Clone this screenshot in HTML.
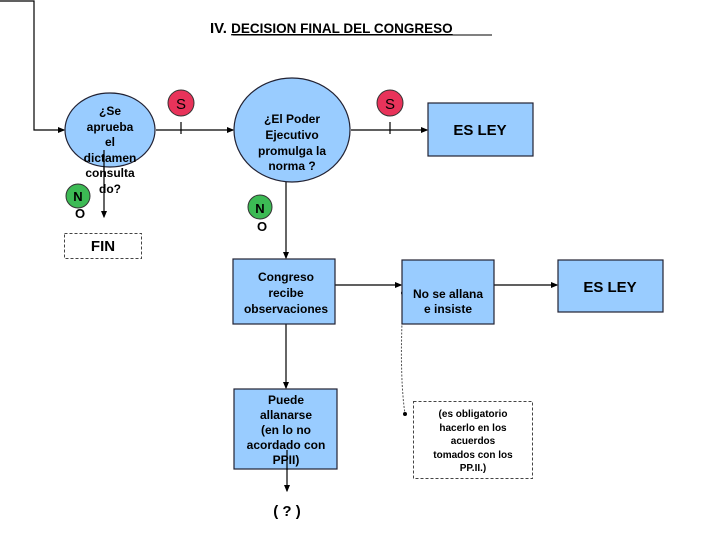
<!DOCTYPE html>
<html><head><meta charset="utf-8"><style>
html,body{margin:0;padding:0;background:#fff}
svg{display:block}
text{font-family:"Liberation Sans",Arial,sans-serif;font-weight:bold;fill:#000}
</style></head><body>
<svg width="728" height="546" viewBox="0 0 728 546" xmlns="http://www.w3.org/2000/svg">
<defs><marker id="a" markerWidth="6" markerHeight="6" refX="5" refY="3" orient="auto"><path d="M0,0.5 L6,3 L0,5.5 z" fill="#000"/></marker></defs>
<g stroke="#000" stroke-width="1.2" fill="none">
<path d="M0,1 H34 V130 H64" marker-end="url(#a)"/>
<path d="M156,130 H233" marker-end="url(#a)"/>
<path d="M351,130 H427" marker-end="url(#a)"/>
<path d="M104,150 V217" marker-end="url(#a)"/>
<path d="M286,182 V258" marker-end="url(#a)"/>
<path d="M335,285 H401" marker-end="url(#a)"/>
<path d="M494,285 H557" marker-end="url(#a)"/>
<path d="M286,324 V388" marker-end="url(#a)"/>
<path d="M287,450 V491" marker-end="url(#a)"/>
<path d="M181,122 V134 M390,122 V134"/>
</g>
<path d="M402,322 Q400,380 405,414" stroke="#555" stroke-width="1" stroke-dasharray="2,1.5" fill="none"/>
<circle cx="405" cy="414" r="2" fill="#000"/>
<circle cx="403" cy="293" r="2" fill="#000"/>
<g fill="#99ccff" stroke="#223" stroke-width="1.2">
<ellipse cx="110" cy="130" rx="45" ry="37"/>
<ellipse cx="292" cy="130" rx="58" ry="52"/>
<rect x="428" y="103" width="105" height="53"/>
<rect x="233" y="259" width="102" height="65"/>
<rect x="402" y="260" width="92" height="64"/>
<rect x="558" y="260" width="105" height="52"/>
<rect x="234" y="389" width="103" height="80"/>
</g>
<path d="M104,150 V170" stroke="#000" stroke-width="1.2"/>
<path d="M287,450 V470" stroke="#000" stroke-width="1.2"/>
<g fill="none" stroke="#444" stroke-width="1" stroke-dasharray="3,2">
<rect x="64.5" y="233.5" width="77" height="25"/>
<rect x="413.5" y="401.5" width="119" height="77"/>
</g>
<circle cx="181" cy="103" r="13" fill="#e8335a" stroke="#333"/>
<circle cx="390" cy="103" r="13" fill="#e8335a" stroke="#333"/>
<circle cx="78" cy="196" r="12" fill="#3cba54" stroke="#333"/>
<circle cx="260" cy="207" r="12" fill="#3cba54" stroke="#333"/>
<text x="181" y="109" font-size="15" text-anchor="middle" style="font-weight:normal" fill="#222">S</text>
<text x="390" y="109" font-size="15" text-anchor="middle" style="font-weight:normal" fill="#222">S</text>
<text x="78" y="201" font-size="13" text-anchor="middle">N</text>
<text x="80" y="218" font-size="13" text-anchor="middle">O</text>
<text x="260" y="213" font-size="13" text-anchor="middle">N</text>
<text x="262" y="231" font-size="13" text-anchor="middle">O</text>
<text x="210" y="33" font-size="15">IV. <tspan font-size="13.5" text-decoration="underline">DECISION FINAL DEL CONGRESO</tspan></text>
<line x1="233" y1="35" x2="492" y2="35" stroke="#000" stroke-width="1"/>
<g font-size="12" text-anchor="middle">
<text x="110" y="115">¿Se</text><text x="110" y="131">aprueba</text><text x="110" y="146">el</text><text x="110" y="162">dictamen</text><text x="110" y="177">consulta</text><text x="110" y="193">do?</text>
<text x="292" y="123">¿El Poder</text><text x="292" y="139">Ejecutivo</text><text x="292" y="155">promulga la</text><text x="292" y="170">norma ?</text>
<text x="286" y="281">Congreso</text><text x="286" y="297">recibe</text><text x="286" y="313">observaciones</text>
<text x="448" y="298">No se allana</text><text x="448" y="313">e insiste</text>
<text x="286" y="404">Puede</text><text x="286" y="419">allanarse</text><text x="286" y="434">(en lo no</text><text x="286" y="449">acordado con</text><text x="286" y="464">PPII)</text>
</g>
<g font-size="15" text-anchor="middle">
<text x="480" y="135">ES LEY</text>
<text x="610" y="292">ES LEY</text>
<text x="103" y="251">FIN</text>
<text x="287" y="516">( ? )</text>
</g>
<g font-size="10" text-anchor="middle">
<text x="473" y="417">(es obligatorio</text><text x="473" y="431">hacerlo en los</text><text x="473" y="444">acuerdos</text><text x="473" y="458">tomados con los</text><text x="473" y="471">PP.II.)</text>
</g>
</svg>
</body></html>
